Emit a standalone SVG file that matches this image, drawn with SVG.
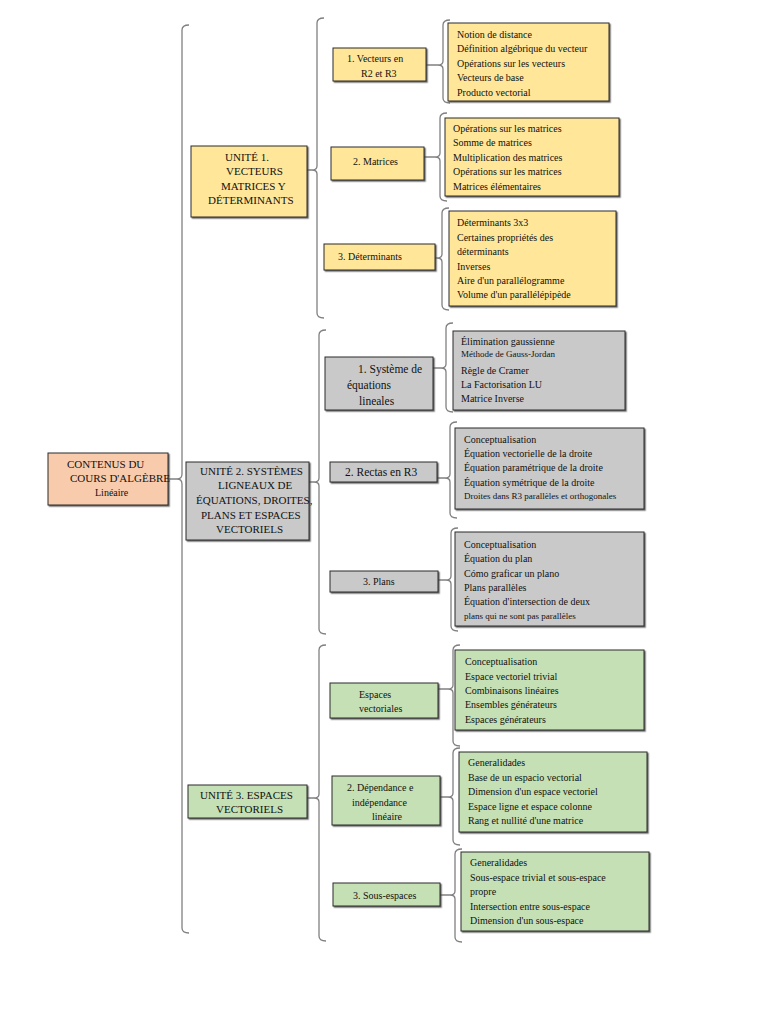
<svg xmlns="http://www.w3.org/2000/svg" width="768" height="1024" viewBox="0 0 768 1024">
<defs>
<filter id="sh" x="-5%" y="-5%" width="115%" height="120%"><feDropShadow dx="1.3" dy="1.3" stdDeviation="0.5" flood-color="#444" flood-opacity="0.8"/></filter>
<style>
rect{stroke:#2b2b2b;stroke-width:1;filter:url(#sh)}
.y{fill:#ffe699}.g{fill:#c9c9c9}.v{fill:#c5e0b4}.p{fill:#f8cbad}
text{font-family:"Liberation Serif","Times New Roman",serif;fill:#111;font-size:10px}
.u{font-size:11px}.s{font-size:11.5px}.m{font-size:9px}
.br{fill:none;stroke:#808080;stroke-width:1.3}
</style>
</defs>
<rect width="768" height="1024" fill="#fff" style="stroke:none;filter:none"/>
<g id="connectors">
<path class="br" d="M189,25 Q182,25 182,30 V474 Q182,479 177,479 Q182,479 182,484 V928 Q182,933 189,933 M168,479 H177"/>
<path class="br" d="M324,18 Q317,18 317,23 V166 Q317,170 312,170 Q317,170 317,174 V313 Q317,318 324,318 M307,170 H312"/>
<path class="br" d="M450,20 Q443,20 443,25 V61 Q443,65 438,65 Q443,65 443,69 V98 Q443,103 450,103 M426,65 H438"/>
<path class="br" d="M447,113 Q440,113 440,118 V153 Q440,157 435,157 Q440,157 440,161 V196 Q440,201 447,201 M424,157 H435"/>
<path class="br" d="M449,208 Q442,208 442,213 V254 Q442,258 437,258 Q442,258 442,262 V305 Q442,310 449,310 M435,258 H437"/>
<path class="br" d="M326,330 Q319,330 319,335 V478 Q319,482 314,482 Q319,482 319,486 V629 Q319,634 326,634 M309,482 H314"/>
<path class="br" d="M453,323 Q446,323 446,328 V364 Q446,368 441,368 Q446,368 446,372 V407 Q446,412 453,412 M433,368 H441"/>
<path class="br" d="M457,422 Q450,422 450,427 V474 Q450,478 445,478 Q450,478 450,482 V513 Q450,518 457,518 M437,478 H445"/>
<path class="br" d="M458,528 Q451,528 451,533 V576 Q451,580 446,580 Q451,580 451,584 V626 Q451,631 458,631 M438,580 H446"/>
<path class="br" d="M326,645 Q319,645 319,650 V794 Q319,798 314,798 Q319,798 319,802 V936 Q319,941 326,941 M307,798 H314"/>
<path class="br" d="M460,645 Q453,645 453,650 V685 Q453,689 448,689 Q453,689 453,693 V741 Q453,746 460,746 M438,689 H448"/>
<path class="br" d="M460,748 Q453,748 453,753 V793 Q453,797 448,797 Q453,797 453,801 V840 Q453,845 460,845 M440,797 H448"/>
<path class="br" d="M462,849 Q455,849 455,854 V891 Q455,895 450,895 Q455,895 455,899 V937 Q455,942 462,942 M440,895 H450"/>
</g>
<g id="root">
<rect class="p" x="48" y="453" width="120" height="52"/>
<text class="u" x="67" y="468">CONTENUS DU</text>
<text class="u" x="70" y="482">COURS D'ALGÈBRE</text>
<text x="95" y="496">Linéaire</text>
</g>
<g id="unit1">
<rect class="y" x="191" y="146" width="116" height="71"/>
<text class="u" x="225" y="161">UNITÉ 1.</text>
<text class="u" x="226" y="175">VECTEURS</text>
<text class="u" x="221" y="190">MATRICES Y</text>
<text class="u" x="208" y="204">DÉTERMINANTS</text>
</g>
<g id="u1s1">
<rect class="y" x="333" y="48" width="93" height="33"/>
<text x="347" y="62">1. Vecteurs en</text>
<text x="361" y="77">R2 et R3</text>
</g>
<g id="u1c1">
<rect class="y" x="448" y="23" width="161" height="78"/>
<text x="457" y="38">Notion de distance</text>
<text x="457" y="52">Définition algébrique du vecteur</text>
<text x="457" y="67">Opérations sur les vecteurs</text>
<text x="457" y="81">Vecteurs de base</text>
<text x="457" y="96">Producto vectorial</text>
</g>
<g id="u1s2">
<rect class="y" x="331" y="147" width="93" height="33"/>
<text x="353" y="165">2. Matrices</text>
</g>
<g id="u1c2">
<rect class="y" x="445" y="118" width="174" height="78"/>
<text x="453" y="132">Opérations sur les matrices</text>
<text x="453" y="146">Somme de matrices</text>
<text x="453" y="161">Multiplication des matrices</text>
<text x="453" y="175">Opérations sur les matrices</text>
<text x="453" y="190">Matrices élémentaires</text>
</g>
<g id="u1s3">
<rect class="y" x="324" y="244" width="111" height="26"/>
<text x="338" y="260">3. Déterminants</text>
</g>
<g id="u1c3">
<rect class="y" x="449" y="211" width="167" height="95"/>
<text x="457" y="226">Déterminants 3x3</text>
<text x="457" y="241">Certaines propriétés des</text>
<text x="457" y="255">déterminants</text>
<text x="457" y="270">Inverses</text>
<text x="457" y="284">Aire d'un parallélogramme</text>
<text x="457" y="298">Volume d'un parallélépipède</text>
</g>
<g id="unit2">
<rect class="g" x="186" y="462" width="123" height="78"/>
<text class="u" x="200" y="475">UNITÉ 2. SYSTÈMES</text>
<text class="u" x="218" y="489">LIGNEAUX DE</text>
<text class="u" x="196" y="504">ÉQUATIONS, DROITES,</text>
<text class="u" x="201" y="519">PLANS ET ESPACES</text>
<text class="u" x="216" y="533">VECTORIELS</text>
</g>
<g id="u2s1">
<rect class="g" x="325" y="357" width="108" height="53"/>
<text class="s" x="358" y="373">1. Système de</text>
<text class="s" x="347" y="389">équations</text>
<text class="s" x="359" y="405">lineales</text>
</g>
<g id="u2c1">
<rect class="g" x="453" y="331" width="172" height="79"/>
<text x="461" y="345">Élimination gaussienne</text>
<text class="m" x="461" y="357">Méthode de Gauss-Jordan</text>
<text x="461" y="374">Règle de Cramer</text>
<text x="461" y="388">La Factorisation LU</text>
<text x="461" y="402">Matrice Inverse</text>
</g>
<g id="u2s2">
<rect class="g" x="330" y="462" width="107" height="20"/>
<text class="s" x="345" y="476">2. Rectas en R3</text>
</g>
<g id="u2c2">
<rect class="g" x="455" y="428" width="189" height="81"/>
<text x="464" y="443">Conceptualisation</text>
<text x="464" y="457">Équation vectorielle de la droite</text>
<text x="464" y="471">Équation paramétrique de la droite</text>
<text x="464" y="486">Équation symétrique de la droite</text>
<text class="m" x="464" y="499">Droites dans R3 parallèles et orthogonales</text>
</g>
<g id="u2s3">
<rect class="g" x="330" y="571" width="108" height="21"/>
<text x="363" y="585">3. Plans</text>
</g>
<g id="u2c3">
<rect class="g" x="455" y="532" width="189" height="94"/>
<text x="464" y="548">Conceptualisation</text>
<text x="464" y="562">Équation du plan</text>
<text x="464" y="577">Cómo graficar un plano</text>
<text x="464" y="591">Plans parallèles</text>
<text x="464" y="605">Équation d'intersection de deux</text>
<text class="m" x="464" y="619">plans qui ne sont pas parallèles</text>
</g>
<g id="unit3">
<rect class="v" x="188" y="785" width="119" height="33"/>
<text class="u" x="200" y="799">UNITÉ 3. ESPACES</text>
<text class="u" x="216" y="813">VECTORIELS</text>
</g>
<g id="u3s1">
<rect class="v" x="330" y="683" width="108" height="35"/>
<text x="359" y="698">Espaces</text>
<text x="359" y="712">vectoriales</text>
</g>
<g id="u3c1">
<rect class="v" x="455" y="650" width="189" height="80"/>
<text x="465" y="665">Conceptualisation</text>
<text x="465" y="680">Espace vectoriel trivial</text>
<text x="465" y="694">Combinaisons linéaires</text>
<text x="465" y="708">Ensembles générateurs</text>
<text x="465" y="723">Espaces générateurs</text>
</g>
<g id="u3s2">
<rect class="v" x="332" y="776" width="108" height="49"/>
<text x="347" y="791">2. Dépendance e</text>
<text x="352" y="806">indépendance</text>
<text x="372" y="820">linéaire</text>
</g>
<g id="u3c2">
<rect class="v" x="459" y="752" width="188" height="80"/>
<text x="468" y="766">Generalidades</text>
<text x="468" y="781">Base de un espacio vectorial</text>
<text x="468" y="795">Dimension d'un espace vectoriel</text>
<text x="468" y="810">Espace ligne et espace colonne</text>
<text x="468" y="824">Rang et nullité d'une matrice</text>
</g>
<g id="u3s3">
<rect class="v" x="333" y="883" width="107" height="23"/>
<text x="353" y="899">3. Sous-espaces</text>
</g>
<g id="u3c3">
<rect class="v" x="461" y="852" width="188" height="79"/>
<text x="470" y="866">Generalidades</text>
<text x="470" y="881">Sous-espace trivial et sous-espace</text>
<text x="470" y="895">propre</text>
<text x="470" y="910">Intersection entre sous-espace</text>
<text x="470" y="924">Dimension d'un sous-espace</text>
</g>
</svg>
